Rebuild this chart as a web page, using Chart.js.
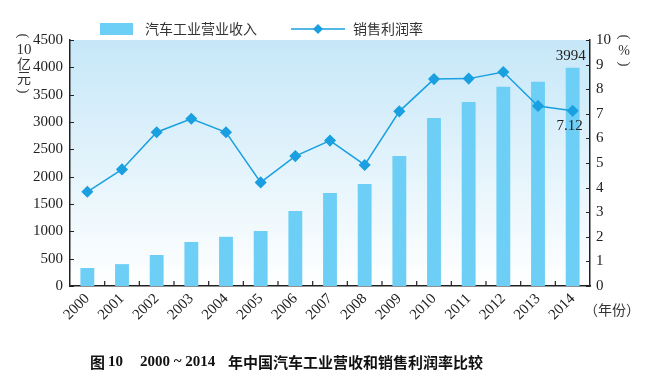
<!DOCTYPE html>
<html>
<head>
<meta charset="utf-8">
<script src="https://cdn.jsdelivr.net/npm/chart.js@4/dist/chart.umd.min.js"></script>
<style>
  html, body { margin: 0; padding: 0; background: #fff; }
  #wrap { width: 650px; height: 383px; }
</style>
</head>
<body>
<div id="wrap"><canvas id="auto-chart" width="650" height="383"></canvas></div>
<script>
var years = ["2000","2001","2002","2003","2004","2005","2006","2007","2008","2009","2010","2011","2012","2013","2014"];
var revenue = [330, 400, 567, 805, 900, 1006, 1372, 1700, 1866, 2378, 3073, 3366, 3643, 3734, 3994];
var profitRate = [3.83, 4.74, 6.25, 6.80, 6.25, 4.21, 5.28, 5.91, 4.92, 7.10, 8.41, 8.43, 8.70, 7.32, 7.12];
var leftTicks = [0, 500, 1000, 1500, 2000, 2500, 3000, 3500, 4000, 4500];
var rightTicks = [0, 1, 2, 3, 4, 5, 6, 7, 8, 9, 10];

var barColor = "#6dcff6";
var lineColor = "#1aa0e0";
var serif = "'Liberation Serif', 'DejaVu Serif', serif";
var cjk = "'Noto Sans CJK SC', sans-serif";

// background, legend, axis titles, inner ticks, labels, caption
var decor = {
    id: 'decor',
    beforeDraw: function(chart) {
        var ctx = chart.ctx, a = chart.chartArea;
        var g = ctx.createLinearGradient(0, a.top, 0, a.bottom);
        g.addColorStop(0, "#c6e7f8");
        g.addColorStop(1, "#ffffff");
        ctx.save();
        ctx.fillStyle = g;
        ctx.fillRect(a.left, a.top, a.right - a.left, a.bottom - a.top);
        ctx.restore();
    },
    afterDraw: function(chart) {
        var ctx = chart.ctx, a = chart.chartArea;
        var x = chart.scales.x, yL = chart.scales.y, yR = chart.scales.y1;
        ctx.save();
        ctx.strokeStyle = "#222";
        ctx.lineWidth = 1.2;
        // inner tick marks
        ctx.beginPath();
        leftTicks.forEach(function(v) {
            var py = Math.round(yL.getPixelForValue(v)) + 0.5;
            ctx.moveTo(a.left, py); ctx.lineTo(a.left + 4, py);
        });
        rightTicks.forEach(function(v) {
            var py = Math.round(yR.getPixelForValue(v)) + 0.5;
            ctx.moveTo(a.right, py); ctx.lineTo(a.right - 4, py);
        });
        for (var i = 1; i < years.length; i++) {
            var px = (x.getPixelForValue(i - 1) + x.getPixelForValue(i)) / 2;
            ctx.moveTo(px, a.bottom); ctx.lineTo(px, a.bottom - 5);
        }
        ctx.stroke();

        // legend
        ctx.fillStyle = barColor;
        ctx.fillRect(100, 23, 33, 12);
        ctx.fillStyle = "#333";
        ctx.font = "14px " + cjk;
        ctx.textBaseline = "middle";
        ctx.textAlign = "left";
        ctx.fillText("汽车工业营业收入", 145, 29);
        ctx.strokeStyle = lineColor;
        ctx.lineWidth = 1.5;
        ctx.beginPath(); ctx.moveTo(291, 29); ctx.lineTo(345, 29); ctx.stroke();
        ctx.fillStyle = lineColor;
        ctx.beginPath();
        ctx.moveTo(318, 24); ctx.lineTo(323, 29); ctx.lineTo(318, 34); ctx.lineTo(313, 29);
        ctx.closePath(); ctx.fill();
        ctx.fillStyle = "#333";
        ctx.fillText("销售利润率", 353, 29);

        // axis titles (vertical)
        ctx.textAlign = "center";
        ctx.fillStyle = "#333";
        function vparen(ch, cx, cy) {
            ctx.save();
            ctx.translate(cx, cy);
            ctx.rotate(Math.PI / 2);
            ctx.font = "15px " + serif;
            ctx.textAlign = "center";
            ctx.textBaseline = "middle";
            ctx.fillText(ch, 0, 0);
            ctx.restore();
        }
        vparen("(", 23, 36);
        ctx.font = "15px " + serif;
        ctx.fillText("10", 24, 50);
        ctx.font = "14px " + cjk;
        ctx.fillText("亿", 24, 64);
        ctx.fillText("元", 24, 78);
        vparen(")", 23, 91);
        vparen("(", 624, 37);
        ctx.font = "14px " + serif;
        ctx.fillText("%", 624, 51);
        vparen(")", 624, 64);
        ctx.font = "14px " + cjk;
        ctx.textAlign = "left";
        ctx.fillText("（年份）", 584, 310);

        // value labels for the last year
        var n = years.length - 1;
        var bx = x.getPixelForValue(n);
        ctx.font = "15px " + serif;
        ctx.textAlign = "center";
        ctx.fillStyle = "#222";
        ctx.fillText(String(revenue[n]), bx - 2, yL.getPixelForValue(revenue[n]) - 12);
        ctx.fillText(profitRate[n].toFixed(2), bx - 3, yR.getPixelForValue(profitRate[n]) + 15);

        // caption
        ctx.textAlign = "left";
        ctx.fillStyle = "#111";
        ctx.font = "bold 15px " + cjk;
        ctx.fillText("图", 90, 362);
        ctx.font = "bold 15px " + serif;
        ctx.fillText("10", 108, 362);
        ctx.fillText("2000 ~ 2014", 140, 362);
        ctx.font = "bold 15px " + cjk;
        ctx.fillText("年中国汽车工业营收和销售利润率比较", 228, 362);
        ctx.restore();
    }
};

new Chart(document.getElementById("auto-chart"), {
    type: 'bar',
    data: {
        labels: years,
        datasets: [
            {
                type: 'line',
                label: "销售利润率",
                data: profitRate,
                yAxisID: 'y1',
                borderColor: lineColor,
                backgroundColor: lineColor,
                borderWidth: 1.5,
                pointStyle: 'rectRot',
                pointRadius: 5,
                pointHoverRadius: 5,
                tension: 0,
                order: 0
            }, {
                label: "汽车工业营业收入",
                data: revenue,
                yAxisID: 'y',
                backgroundColor: barColor,
                barPercentage: 0.8,
                categoryPercentage: 0.5,
                order: 1
            }
        ]
    },
    options: {
        responsive: false,
        animation: false,
        layout: { padding: { top: 40, left: 0, right: 0, bottom: 0 } },
        plugins: {
            legend: { display: false },
            tooltip: { enabled: false }
        },
        scales: {
            x: {
                offset: true,
                grid: { display: false, drawTicks: false },
                border: { display: true, color: "#222", width: 1.5 },
                ticks: {
                    maxRotation: 45, minRotation: 45, padding: 4,
                    color: "#222", font: { family: serif, size: 15 }
                },
                afterFit: function(s) { s.height = 97; }
            },
            y: {
                position: 'left',
                min: 0, max: 4500,
                grid: { display: false, drawTicks: false },
                border: { display: true, color: "#222", width: 1.5 },
                ticks: {
                    stepSize: 500, padding: 7,
                    color: "#222", font: { family: serif, size: 15 },
                    callback: function(v) { return String(v); }
                },
                afterFit: function(s) { s.width = 70; }
            },
            y1: {
                position: 'right',
                min: 0, max: 10,
                grid: { display: false, drawTicks: false },
                border: { display: true, color: "#222", width: 1.5 },
                ticks: {
                    stepSize: 1, padding: 6,
                    color: "#222", font: { family: serif, size: 15 }
                },
                afterFit: function(s) { s.width = 60; }
            }
        }
    },
    plugins: [decor]
});
</script>
</body>
</html>
